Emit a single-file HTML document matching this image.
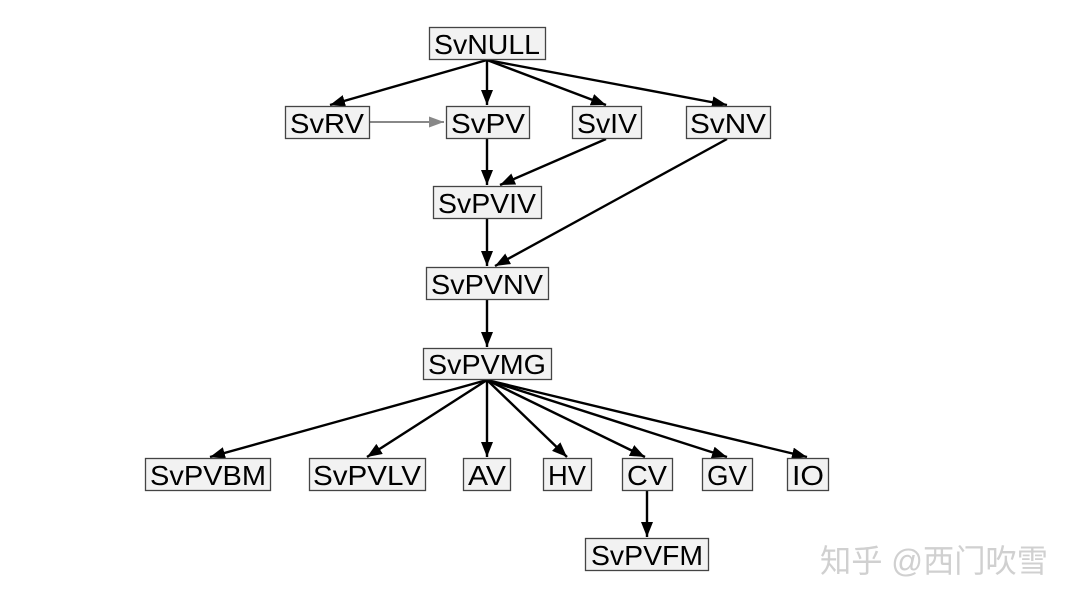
<!DOCTYPE html>
<html><head><meta charset="utf-8"><style>
html,body{margin:0;padding:0;background:#fff;width:1078px;height:604px;overflow:hidden}
svg text{font-family:"Liberation Sans",Arial,sans-serif;font-size:28px;fill:#000}
</style></head><body>
<svg width="1078" height="604" xmlns="http://www.w3.org/2000/svg">
<defs>
<marker id="a" viewBox="0 0 10 10" refX="10" refY="5" markerWidth="15" markerHeight="12" orient="auto" markerUnits="userSpaceOnUse" preserveAspectRatio="none"><path d="M0,0 L10,5 L0,10 z" fill="#000"/></marker>
<marker id="g" viewBox="0 0 10 10" refX="10" refY="5" markerWidth="15" markerHeight="11" orient="auto" markerUnits="userSpaceOnUse" preserveAspectRatio="none"><path d="M0,0 L10,5 L0,10 z" fill="#888"/></marker>
</defs>
<g stroke="#000" stroke-width="2.4">
<line x1="487" y1="60" x2="330" y2="105" marker-end="url(#a)"/>
<line x1="487" y1="60" x2="487" y2="105" marker-end="url(#a)"/>
<line x1="487" y1="60" x2="606" y2="105" marker-end="url(#a)"/>
<line x1="487" y1="60" x2="727" y2="105" marker-end="url(#a)"/>
<line x1="487" y1="139" x2="487" y2="185" marker-end="url(#a)"/>
<line x1="606" y1="139" x2="500" y2="185" marker-end="url(#a)"/>
<line x1="487" y1="219" x2="487" y2="266" marker-end="url(#a)"/>
<line x1="727" y1="139" x2="495" y2="266" marker-end="url(#a)"/>
<line x1="487" y1="300" x2="487" y2="347" marker-end="url(#a)"/>
<line x1="487" y1="380" x2="210" y2="457" marker-end="url(#a)"/>
<line x1="487" y1="380" x2="367" y2="457" marker-end="url(#a)"/>
<line x1="487" y1="380" x2="487" y2="457" marker-end="url(#a)"/>
<line x1="487" y1="380" x2="567" y2="457" marker-end="url(#a)"/>
<line x1="487" y1="380" x2="645" y2="457" marker-end="url(#a)"/>
<line x1="487" y1="380" x2="727" y2="457" marker-end="url(#a)"/>
<line x1="487" y1="380" x2="807" y2="457" marker-end="url(#a)"/>
<line x1="647" y1="491" x2="647" y2="537" marker-end="url(#a)"/>
</g>
<line x1="370" y1="122" x2="444" y2="122" stroke="#888" stroke-width="2" marker-end="url(#g)"/>
<g fill="#f2f2f2" stroke="#444" stroke-width="1.3">
<rect x="429.5" y="27.5" width="116" height="32"/>
<rect x="285.5" y="106.5" width="84" height="32"/>
<rect x="446.5" y="106.5" width="83" height="32"/>
<rect x="572.5" y="106.5" width="69" height="32"/>
<rect x="686.5" y="106.5" width="84" height="32"/>
<rect x="433.5" y="186.5" width="108" height="32"/>
<rect x="426.5" y="267.5" width="122" height="32"/>
<rect x="423.5" y="348.5" width="128" height="31"/>
<rect x="145.5" y="458.5" width="125" height="32"/>
<rect x="309.5" y="458.5" width="116" height="32"/>
<rect x="463.5" y="458.5" width="47" height="32"/>
<rect x="543.5" y="458.5" width="48" height="32"/>
<rect x="622.5" y="458.5" width="50" height="32"/>
<rect x="702.5" y="458.5" width="50" height="32"/>
<rect x="787.5" y="458.5" width="41" height="32"/>
<rect x="585.5" y="538.5" width="123" height="32"/>
</g>
<g text-anchor="middle">
<text x="487" y="54" textLength="106" lengthAdjust="spacingAndGlyphs">SvNULL</text>
<text x="327" y="133" textLength="74" lengthAdjust="spacingAndGlyphs">SvRV</text>
<text x="488" y="133" textLength="74" lengthAdjust="spacingAndGlyphs">SvPV</text>
<text x="607" y="133" textLength="60" lengthAdjust="spacingAndGlyphs">SvIV</text>
<text x="728" y="133" textLength="76" lengthAdjust="spacingAndGlyphs">SvNV</text>
<text x="487" y="213" textLength="98" lengthAdjust="spacingAndGlyphs">SvPVIV</text>
<text x="487" y="294" textLength="112" lengthAdjust="spacingAndGlyphs">SvPVNV</text>
<text x="487" y="374" textLength="118" lengthAdjust="spacingAndGlyphs">SvPVMG</text>
<text x="208" y="485" textLength="116" lengthAdjust="spacingAndGlyphs">SvPVBM</text>
<text x="367" y="485" textLength="108" lengthAdjust="spacingAndGlyphs">SvPVLV</text>
<text x="487" y="485" textLength="38" lengthAdjust="spacingAndGlyphs">AV</text>
<text x="567" y="485" textLength="38" lengthAdjust="spacingAndGlyphs">HV</text>
<text x="647" y="485" textLength="40" lengthAdjust="spacingAndGlyphs">CV</text>
<text x="727" y="485" textLength="40" lengthAdjust="spacingAndGlyphs">GV</text>
<text x="808" y="485" textLength="32" lengthAdjust="spacingAndGlyphs">IO</text>
<text x="647" y="565" textLength="112" lengthAdjust="spacingAndGlyphs">SvPVFM</text>
</g>
<text x="820" y="572" textLength="228" lengthAdjust="spacingAndGlyphs" style="font-family:'Liberation Sans','Noto Sans CJK SC',sans-serif;font-size:32px;fill:#d0d0d0">知乎 @西门吹雪</text>
</svg>
</body></html>
